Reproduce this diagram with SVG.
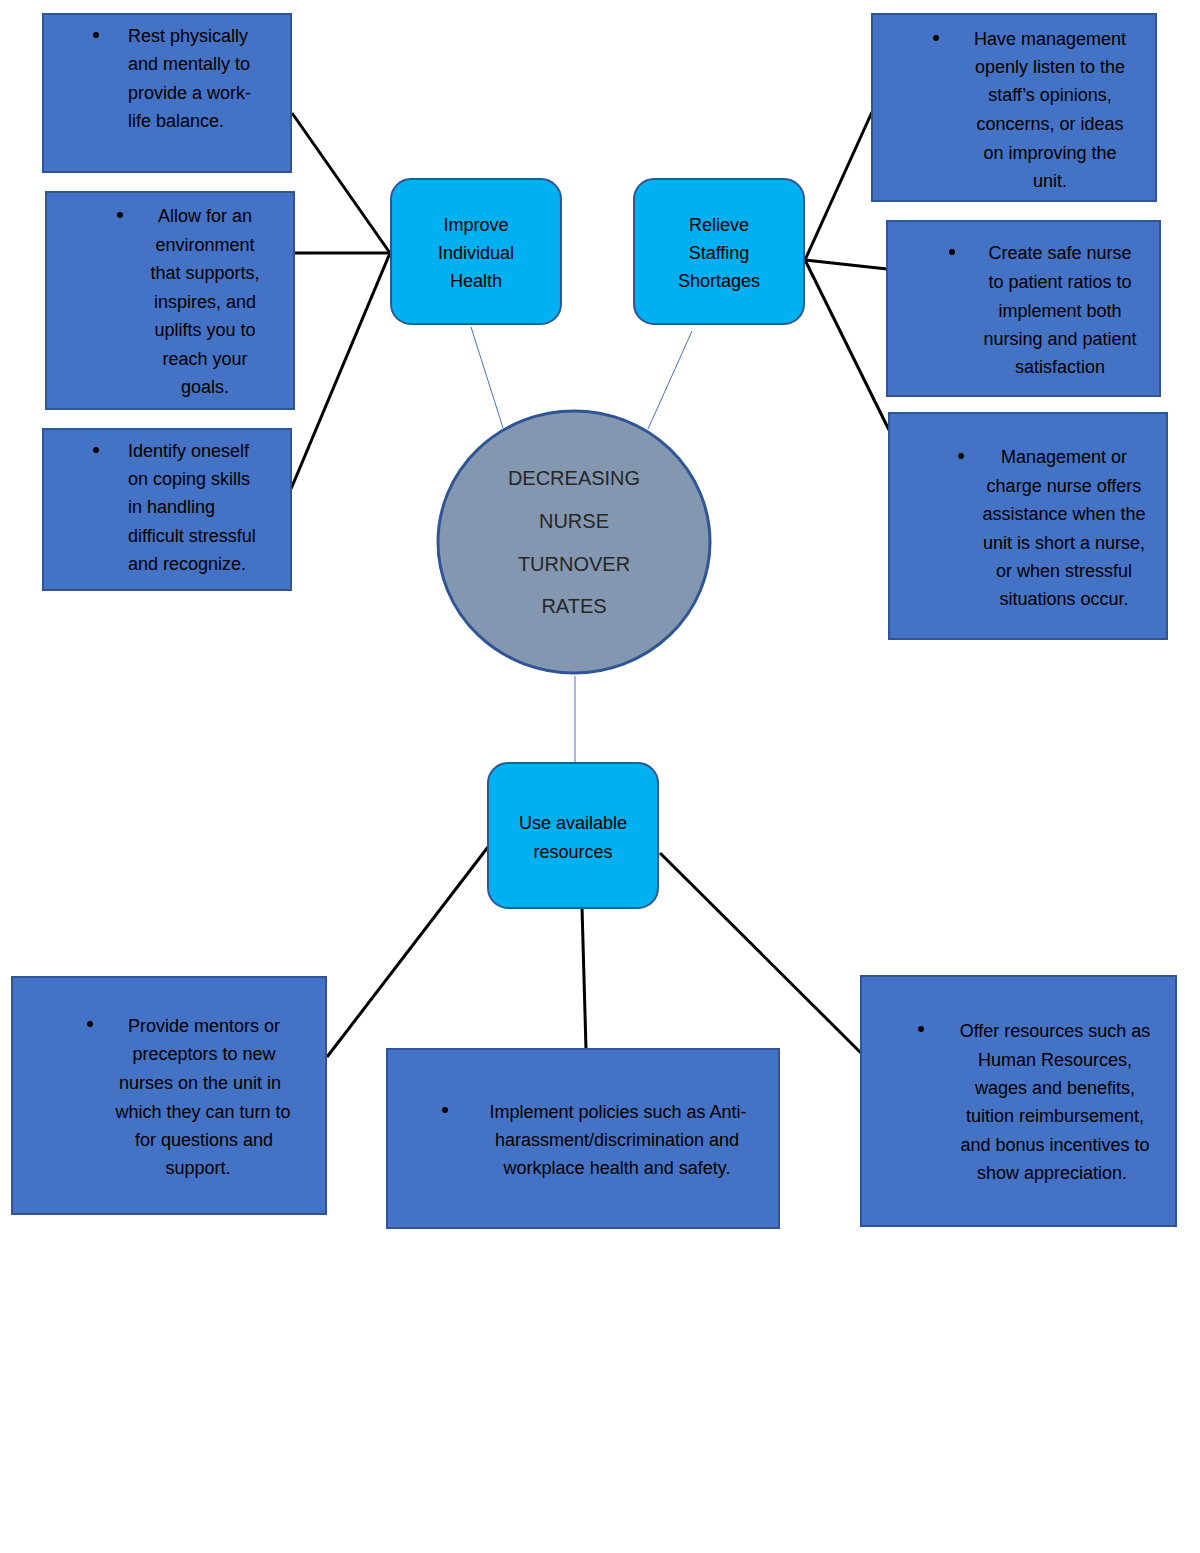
<svg xmlns="http://www.w3.org/2000/svg" width="1200" height="1553" viewBox="0 0 1200 1553">
<style>
.box{fill:#4472C4;stroke:#2F5597;stroke-width:2}
.node{fill:#00B0F0;stroke:#2F5597;stroke-width:2}
text{font-family:"Liberation Sans",Arial,sans-serif;font-size:18px;fill:#000;dominant-baseline:central}
.c{text-anchor:middle}
.big{font-size:20px;fill:#262626}
.thick{stroke:#000;stroke-width:3;fill:none}
.thin{stroke:#4472C4;stroke-width:1;fill:none}
.b{fill:#000}
</style>
<rect width="1200" height="1553" fill="#fff"/>
<g id="connectors">
<line class="thick" x1="292" y1="113" x2="390" y2="253"/>
<line class="thick" x1="294" y1="253" x2="390" y2="253"/>
<line class="thick" x1="291" y1="489" x2="390" y2="253"/>
<line class="thick" x1="805" y1="260" x2="872" y2="112"/>
<line class="thick" x1="805" y1="260" x2="887" y2="269"/>
<line class="thick" x1="805" y1="260" x2="889" y2="430"/>
<line class="thick" x1="488" y1="847" x2="327" y2="1057"/>
<line class="thick" x1="582" y1="907" x2="586" y2="1049"/>
<line class="thick" x1="660" y1="853" x2="863" y2="1055"/>
<line class="thin" x1="471" y1="327" x2="503" y2="428"/>
<line class="thin" x1="692" y1="331" x2="648" y2="429"/>
<line class="thin" x1="575" y1="676" x2="575" y2="763"/>
</g>
<g id="box1"><rect class="box" x="43" y="14" width="248" height="158"/>
<circle class="b" cx="96" cy="35" r="3"/>
<text x="128" y="36">Rest physically</text><text x="128" y="64">and mentally to</text><text x="128" y="93">provide a work-</text><text x="128" y="121">life balance.</text></g>
<g id="box2"><rect class="box" x="46" y="192" width="248" height="217"/>
<circle class="b" cx="120" cy="215" r="3"/>
<g class="c"><text class="c" x="205" y="216">Allow for an</text><text class="c" x="205" y="245">environment</text><text class="c" x="205" y="273">that supports,</text><text class="c" x="205" y="302">inspires, and</text><text class="c" x="205" y="330">uplifts you to</text><text class="c" x="205" y="359">reach your</text><text class="c" x="205" y="387">goals.</text></g></g>
<g id="box3"><rect class="box" x="43" y="429" width="248" height="161"/>
<circle class="b" cx="96" cy="450" r="3"/>
<text x="128" y="451">Identify oneself</text><text x="128" y="479">on coping skills</text><text x="128" y="507">in handling</text><text x="128" y="536">difficult stressful</text><text x="128" y="564">and recognize.</text></g>
<g id="box4"><rect class="box" x="872" y="14" width="284" height="187"/>
<circle class="b" cx="936" cy="38" r="3"/>
<text class="c" x="1050" y="39">Have management</text><text class="c" x="1050" y="67">openly listen to the</text><text class="c" x="1050" y="95">staff’s opinions,</text><text class="c" x="1050" y="124">concerns, or ideas</text><text class="c" x="1050" y="153">on improving the</text><text class="c" x="1050" y="181">unit.</text></g>
<g id="box5"><rect class="box" x="887" y="221" width="273" height="175"/>
<circle class="b" cx="952" cy="252" r="3"/>
<text class="c" x="1060" y="253">Create safe nurse</text><text class="c" x="1060" y="282">to patient ratios to</text><text class="c" x="1060" y="311">implement both</text><text class="c" x="1060" y="339">nursing and patient</text><text class="c" x="1060" y="367">satisfaction</text></g>
<g id="box6"><rect class="box" x="889" y="413" width="278" height="226"/>
<circle class="b" cx="961" cy="456" r="3"/>
<text class="c" x="1064" y="457">Management or</text><text class="c" x="1064" y="486">charge nurse offers</text><text class="c" x="1064" y="514">assistance when the</text><text class="c" x="1064" y="543">unit is short a nurse,</text><text class="c" x="1064" y="571">or when stressful</text><text class="c" x="1064" y="599">situations occur.</text></g>
<g id="improve"><rect class="node" x="391" y="179" width="170" height="145" rx="20"/>
<text class="c" x="476" y="225">Improve</text><text class="c" x="476" y="253">Individual</text><text class="c" x="476" y="281">Health</text></g>
<g id="relieve"><rect class="node" x="634" y="179" width="170" height="145" rx="20"/>
<text class="c" x="719" y="225">Relieve</text><text class="c" x="719" y="253">Staffing</text><text class="c" x="719" y="281">Shortages</text></g>
<g id="center"><ellipse cx="574" cy="542" rx="136" ry="131" fill="#8497B0" stroke="#2F5597" stroke-width="3"/>
<text class="c big" x="574" y="478">DECREASING</text><text class="c big" x="574" y="521">NURSE</text><text class="c big" x="574" y="564">TURNOVER</text><text class="c big" x="574" y="606">RATES</text></g>
<g id="use"><rect class="node" x="488" y="763" width="170" height="145" rx="20"/>
<text class="c" x="573" y="823">Use available</text><text class="c" x="573" y="852">resources</text></g>
<g id="bbox1"><rect class="box" x="12" y="977" width="314" height="237"/>
<circle class="b" cx="90" cy="1024" r="3"/>
<text class="c" x="204" y="1026">Provide mentors or</text><text class="c" x="204" y="1054">preceptors to new</text><text class="c" x="200" y="1083">nurses on the unit in</text><text class="c" x="203" y="1112">which they can turn to</text><text class="c" x="204" y="1140">for questions and</text><text class="c" x="198" y="1168">support.</text></g>
<g id="bbox2"><rect class="box" x="387" y="1049" width="392" height="179"/>
<circle class="b" cx="445" cy="1110" r="3"/>
<text class="c" x="618" y="1112">Implement policies such as Anti-</text><text class="c" x="617" y="1140">harassment/discrimination and</text><text class="c" x="617" y="1168">workplace health and safety.</text></g>
<g id="bbox3"><rect class="box" x="861" y="976" width="315" height="250"/>
<circle class="b" cx="921" cy="1029" r="3"/>
<text class="c" x="1055" y="1031">Offer resources such as</text><text class="c" x="1055" y="1060">Human Resources,</text><text class="c" x="1055" y="1088">wages and benefits,</text><text class="c" x="1055" y="1116">tuition reimbursement,</text><text class="c" x="1055" y="1145">and bonus incentives to</text><text class="c" x="1052" y="1173">show appreciation.</text></g>
</svg>
